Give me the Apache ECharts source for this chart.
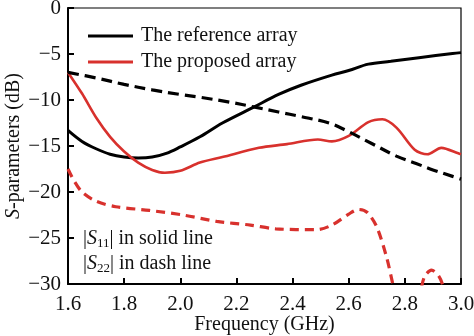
<!DOCTYPE html>
<html>
<head>
<meta charset="utf-8">
<script src="https://cdn.jsdelivr.net/npm/echarts@6/dist/echarts.min.js"></script>
<style>html,body{margin:0;padding:0;background:#fff}#c{width:474px;height:336px}</style>
</head>
<body>
<div id="c"></div>
<script>
var refS11Freq = [1.6, 1.65, 1.7, 1.75, 1.8, 1.85, 1.9, 1.95, 2.0, 2.07, 2.15, 2.26, 2.35, 2.43, 2.54, 2.6, 2.67, 2.75, 2.85, 2.97, 3.0];
var refS11Val  = [-13.3, -14.5, -15.3, -15.9, -16.2, -16.3, -16.2, -15.8, -15.1, -14.0, -12.5, -10.8, -9.4, -8.4, -7.3, -6.8, -6.1, -5.8, -5.4, -4.95, -4.85];

var refS22Freq = [1.6, 1.7, 1.8, 1.9, 2.0, 2.07, 2.17, 2.27, 2.35, 2.43, 2.53, 2.59, 2.68, 2.77, 2.84, 2.9, 2.97, 3.0];
var refS22Val  = [-7.0, -7.6, -8.3, -8.9, -9.4, -9.7, -10.2, -10.8, -11.3, -11.8, -12.5, -13.3, -14.7, -16.1, -16.9, -17.6, -18.3, -18.6];

var proS11Freq = [1.6, 1.65, 1.7, 1.75, 1.8, 1.85, 1.9, 1.945, 2.0, 2.07, 2.15, 2.28, 2.38, 2.49, 2.54, 2.6, 2.67, 2.72, 2.77, 2.835, 2.88, 2.93, 2.99, 3.0];
var proS11Val  = [-7.0, -9.3, -11.9, -14.0, -15.6, -16.8, -17.6, -17.9, -17.7, -16.8, -16.2, -15.2, -14.8, -14.3, -14.5, -13.9, -12.4, -12.1, -13.0, -15.4, -15.9, -15.2, -15.8, -15.9];

var proS22Freq = [1.6, 1.62, 1.65, 1.7, 1.77, 1.89, 2.01, 2.13, 2.25, 2.34, 2.485, 2.54, 2.6, 2.635, 2.665, 2.7, 2.735, 2.757, 2.78, 2.82, 2.855, 2.87, 2.895, 2.92, 2.937, 2.96, 3.0];
var proS22Val  = [-17.5, -18.7, -20.0, -21.0, -21.6, -22.0, -22.5, -23.2, -23.6, -24.0, -24.1, -23.6, -22.4, -21.9, -22.2, -23.8, -27.1, -30.0, -33.0, -35.0, -31.0, -29.2, -28.5, -29.1, -30.3, -33.0, -35.0];

var xTicks = [1.6, 1.8, 2.0, 2.2, 2.4, 2.6, 2.8, 3.0];
var yTicks = [-30, -25, -20, -15, -10, -5, 0];

var legendNames = ['The reference array', 'The proposed array'];

function zip(a, b) { return a.map(function (v, i) { return [v, b[i]]; }); }

var FONT = 'Liberation Serif';
var RED = '#d8312d';

var chart = echarts.init(document.getElementById('c'));
chart.setOption({
  animation: false,
  backgroundColor: '#fff',
  textStyle: { fontFamily: FONT },
  grid: { left: 68, right: 13, top: 8, bottom: 52, outerBoundsMode: 'none', containLabel: false, show: true, borderColor: '#000', borderWidth: 1.2, backgroundColor: 'transparent' },
  legend: {
    data: legendNames,
    orient: 'vertical',
    left: 83, top: 21,
    itemWidth: 45, itemHeight: 3,
    itemGap: 6,
    icon: 'rect',
    textStyle: { fontFamily: FONT, fontSize: 20, color: '#111', lineHeight: 20, padding: [0, 0, 0, 3] }
  },
  xAxis: {
    type: 'value', min: 1.6, max: 3.0, interval: 0.2,
    name: 'Frequency (GHz)', nameLocation: 'middle', nameGap: 31, nameMoveOverlap: false,
    nameTextStyle: { fontFamily: FONT, fontSize: 20, color: '#111' },
    axisLine: { show: true, onZero: false, lineStyle: { color: '#000', width: 2 } },
    axisTick: { show: true, inside: true, length: 6, lineStyle: { color: '#000', width: 2 } },
    axisLabel: { fontFamily: FONT, fontSize: 21, color: '#111', margin: 10, formatter: function (v) { return v.toFixed(1); } },
    splitLine: { show: false }
  },
  yAxis: {
    type: 'value', min: -30, max: 0, interval: 5,
    name: '{i|S}-parameters (dB)', nameLocation: 'middle', nameGap: 44, nameRotate: 90, nameMoveOverlap: false,
    nameTextStyle: { fontFamily: FONT, fontSize: 20, color: '#111', rich: { i: { fontFamily: FONT, fontSize: 20, fontStyle: 'italic', color: '#111' } } },
    axisLine: { show: true, onZero: false, lineStyle: { color: '#000', width: 2 } },
    axisTick: { show: true, inside: true, length: 6, lineStyle: { color: '#000', width: 2 } },
    axisLabel: { fontFamily: FONT, fontSize: 21, color: '#111', margin: 7, formatter: function (v) { return String(v).replace('-', '\u2212'); } },
    splitLine: { show: false }
  },
  series: [
    { name: legendNames[0], type: 'line', data: zip(refS11Freq, refS11Val), smooth: 0.35, showSymbol: false, clip: true, itemStyle: { color: '#000' }, lineStyle: { color: '#000', width: 3 } },
    { name: legendNames[1], type: 'line', data: zip(proS11Freq, proS11Val), smooth: 0.3, showSymbol: false, clip: true, itemStyle: { color: RED }, lineStyle: { color: RED, width: 2.6 } },
    { name: 'refS22', type: 'line', data: zip(refS22Freq, refS22Val), smooth: 0.35, showSymbol: false, clip: true, lineStyle: { color: '#000', width: 3.2, type: [11, 6] } },
    { name: 'proS22', type: 'line', data: zip(proS22Freq, proS22Val), smooth: 0.3, showSymbol: false, clip: true, lineStyle: { color: RED, width: 3.2, type: [9, 6] } }
  ],
  graphic: [
    { type: 'text', left: 83, top: 229, z: 10, style: { text: '|{i|S}{sub|11}| in solid line', fontFamily: FONT, fontSize: 20, fill: '#111',
      rich: { i: { fontFamily: FONT, fontSize: 20, fontStyle: 'italic', fill: '#111' }, sub: { fontFamily: FONT, fontSize: 13, fill: '#111', padding: [9, 0, 0, 0] } } } },
    { type: 'text', left: 83, top: 254, z: 10, style: { text: '|{i|S}{sub|22}| in dash line', fontFamily: FONT, fontSize: 20, fill: '#111',
      rich: { i: { fontFamily: FONT, fontSize: 20, fontStyle: 'italic', fill: '#111' }, sub: { fontFamily: FONT, fontSize: 13, fill: '#111', padding: [9, 0, 0, 0] } } } }
  ]
});
</script>
</body>
</html>
